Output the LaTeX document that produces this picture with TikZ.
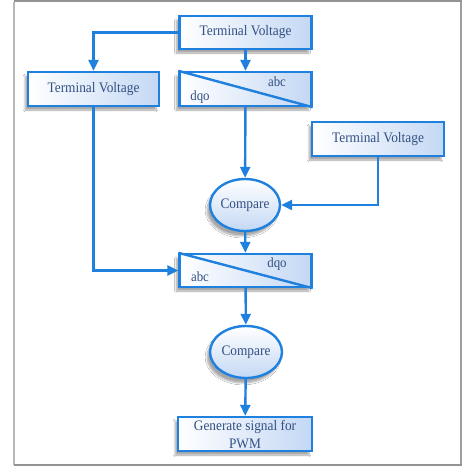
\documentclass[tikz,border=0pt]{standalone}
\usepackage{fontspec}
\setmainfont[FakeStretch=0.92]{Liberation Serif}
\usetikzlibrary{arrows.meta,shapes.geometric,shadows.blur}
\definecolor{flowblue}{RGB}{32,128,222}
\definecolor{inkblue}{RGB}{50,80,130}
\definecolor{paleblue}{RGB}{196,216,244}
\begin{document}
\begin{tikzpicture}[x=1pt,y=-1pt,
   flow/.style={-{Triangle[length=11pt,width=10pt]},draw=flowblue,line width=2.4pt},
   box/.style={draw=flowblue,line width=2.4pt,left color=white,right color=paleblue,
      minimum width=132pt,minimum height=33pt,inner sep=0pt,text=inkblue,
      font=\fontsize{14.5}{16}\selectfont,
      blur shadow={shadow xshift=-3pt,shadow yshift=-4pt,shadow blur steps=6,shadow opacity=35}},
   cmp/.style={ellipse,draw=flowblue,line width=2.4pt,top color=white,bottom color=paleblue,
      minimum width=70pt,minimum height=52pt,inner sep=0pt,text=inkblue,
      font=\fontsize{14.5}{16}\selectfont,
      blur shadow={shadow xshift=-3pt,shadow yshift=-5pt,shadow blur steps=6,shadow opacity=35}},
   lbl/.style={text=inkblue,font=\fontsize{14}{16}\selectfont,inner sep=0pt}]
   \useasboundingbox (0,0) rectangle (474,475);
   \fill[white] (0,0) rectangle (474,475);
   \draw[gray!55,line width=1.2pt] (14,2) -- (14,465);
   \draw[gray!75,line width=1.2pt] (461,2) -- (461,465);
   \draw[gray!85,line width=2.2pt] (14,1) -- (462,1);
   \draw[gray!85,line width=1.5pt] (14,465) -- (462,465);

   \node[box] (tvtop) at (245.5,32.5) {Terminal Voltage};
   \node[box,minimum width=131pt,minimum height=34pt] (tvleft) at (93.5,89) {Terminal Voltage};
   \node[box,minimum height=34pt] (tdqo) at (245.5,89) {};
   \node[box,minimum height=34pt] (tvright) at (378,139) {Terminal Voltage};
   \node[cmp] (cmpa) at (245,205) {Compare};
   \node[box] (tabc) at (245.5,270.5) {};
   \node[cmp,minimum width=72pt] (cmpb) at (246,352) {Compare};
   \node[box,minimum width=134pt,minimum height=34pt,align=center,
      font=\fontsize{14.5}{18}\selectfont] (pwm) at (245,434) {Generate signal for\\PWM};

   \draw[flowblue,line width=2.4pt] (tdqo.north west) -- (tdqo.south east);
   \node[lbl] (abca) at (277,82) {abc};
   \node[lbl] (dqoa) at (200,97) {dqo};
   \draw[flowblue,line width=2.4pt] (tabc.north west) -- (tabc.south east);
   \node[lbl] (dqob) at (277,264) {dqo};
   \node[lbl] (abcb) at (200,277) {abc};

   \draw[flow] (tvtop.west) -| (tvleft.north);
   \draw[flow] (tvtop) -- (tdqo);
   \draw[flow] (tdqo) -- (cmpa);
   \draw[flow] (tvright.south) |- (cmpa.east);
   \draw[flow] (cmpa) -- (tabc);
   \draw[flow] (tvleft.south) |- (tabc.west);
   \draw[flow] (tabc) -- (cmpb);
   \draw[flow] (cmpb) -- (pwm);
\end{tikzpicture}
\end{document}
